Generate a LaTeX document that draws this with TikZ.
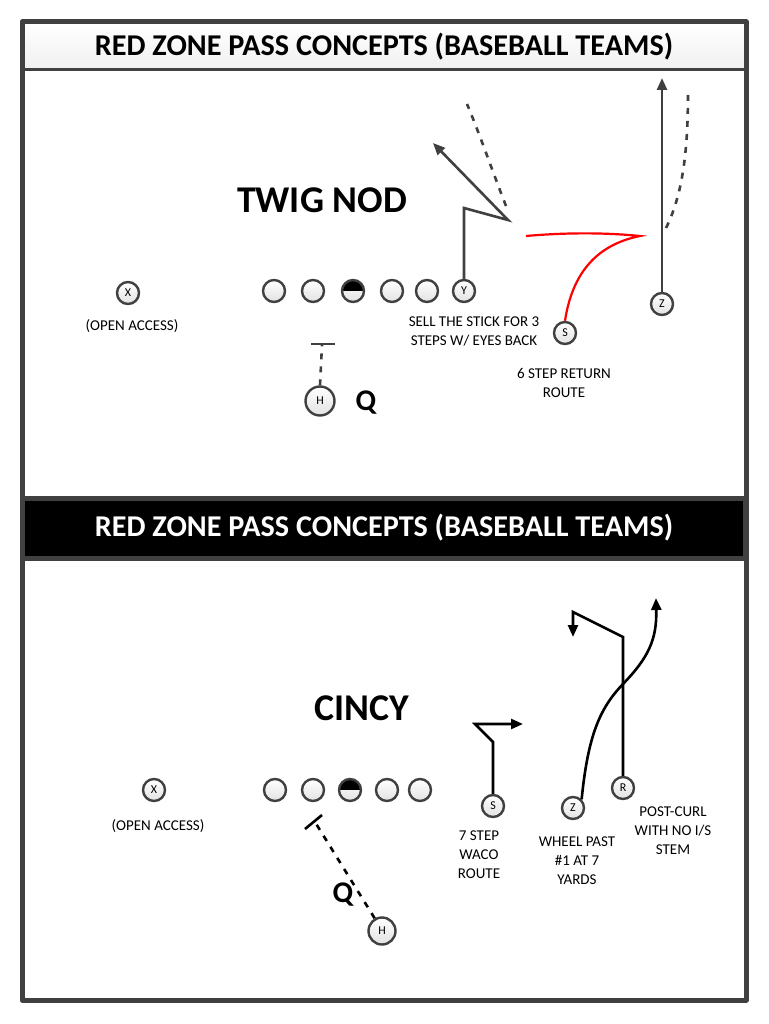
\documentclass[tikz,border=0pt]{standalone}
\usepackage{fontspec}
\setmainfont{Carlito}
\usetikzlibrary{arrows.meta}
\definecolor{dgray}{HTML}{404040}
\definecolor{lgray}{HTML}{E2E2E2}
\begin{document}
\begin{tikzpicture}[x=1pt,y=-1pt,
  pl/.style={circle, draw=dgray, line width=2.4pt, top color=white, bottom color=lgray, minimum size=22pt, inner sep=0pt, font=\fontsize{12}{12}\selectfont},
  ctr/.style={pl, path picture={\fill[black] (path picture bounding box.west) rectangle (path picture bounding box.north east);}},
  lbl/.style={align=center, font=\fontsize{15}{19}\selectfont, inner sep=0pt},
  ttl/.style={font=\bfseries\fontsize{30.2}{30}\selectfont, inner sep=0pt},
  big/.style={font=\bfseries\fontsize{37.8}{38}\selectfont, inner sep=0pt},
  qq/.style={font=\bfseries\fontsize{30}{30}\selectfont, inner sep=0pt},
  rt/.style={draw=dgray, line width=2.6pt, line join=miter},
  rtb/.style={draw=black, line width=2.6pt, line join=miter},
  tip/.style={-{Triangle[length=12pt,width=10pt]}},
  dot/.style={dgray, line width=2.6pt, dash pattern=on 6pt off 7pt},
]
\useasboundingbox (0,0) rectangle (768,1024);
% frame and bands
\fill[white] (22,22) rectangle (746,1000);
\shade[top color=white, bottom color=black!6] (24,24) rectangle (744,70);
\draw[dgray, line width=3pt] (24,70) -- (744,70);
\fill[dgray] (22,496) rectangle (746,561);
\fill[black] (25,501) rectangle (743,556);
\draw[dgray, line width=5pt, line join=round] (22,22) rectangle (746,1000);
\node[ttl] (t1) at (384,47) {RED ZONE PASS CONCEPTS (BASEBALL TEAMS)};
\node[ttl, text=white] (t2) at (384,528) {RED ZONE PASS CONCEPTS (BASEBALL TEAMS)};

% ---------- top: TWIG NOD ----------
\node[big] (tw) at (322,200) {TWIG NOD};
\node[pl] (x1) at (128,293) {X};
\node[lbl] (oa1) at (132,326) {(OPEN ACCESS)};
\node[pl] (l1) at (274,291) {};
\node[pl] (l2) at (313,291) {};
\node[ctr] (c1) at (353,291) {};
\node[pl] (l4) at (392,291) {};
\node[pl] (l5) at (427,291) {};
\node[pl] (y1) at (464,291) {Y};
\node[pl] (s1) at (565,333) {S};
\node[pl] (z1) at (662,304) {Z};
\node[pl, minimum size=29pt] (h1) at (320,401) {H};
\node[qq] (q1) at (366,403) {Q};
\node[lbl] (sell) at (474,331) {SELL THE STICK FOR 3\\STEPS W/ EYES BACK};
\node[lbl] (ret) at (564,383) {6 STEP RETURN\\ROUTE};

\coordinate (yc) at (464,208);
\coordinate (yp) at (508,220);
\coordinate (ya) at (433,143);
\draw[rt, tip] (y1.north) -- (yc) -- (yp) -- (ya);
\coordinate (d1a) at (506,206);
\coordinate (d1b) at (467,104);
\draw[dot] (d1a) .. controls (492,170) and (480,135) .. (d1b);

\coordinate (rp) at (640,236);
\coordinate (re) at (526,236);
\draw[red, line width=2.2pt] (s1.north) .. controls (572,275) and (595,245) .. (rp) .. controls (600,232) and (560,233) .. (re);

\coordinate (za) at (662,78);
\draw[rt, tip] (z1.north) -- (za);
\coordinate (d2a) at (666,228);
\coordinate (d2b) at (688,90);
\draw[dot] (d2a) .. controls (685,190) and (688,140) .. (d2b);

\coordinate (hb) at (322,345);
\draw[dot] (h1.north) -- (hb);
\coordinate (hbl) at (311,344);
\coordinate (hbr) at (335,344);
\draw[dgray, line width=2.6pt] (hbl) -- (hbr);

% ---------- bottom: CINCY ----------
\node[big] (cy) at (362,708) {CINCY};
\node[pl] (x2) at (154,790) {X};
\node[lbl] (oa2) at (158,826) {(OPEN ACCESS)};
\node[pl] (m1) at (275,790) {};
\node[pl] (m2) at (313,790) {};
\node[ctr] (c2) at (350,790) {};
\node[pl] (m4) at (387,790) {};
\node[pl] (m5) at (420,790) {};
\node[pl] (s2) at (493,806) {S};
\node[pl] (z2) at (573,808) {Z};
\node[pl] (r2) at (623,788) {R};
\node[pl, minimum size=27pt] (h2) at (382,931) {H};
\node[qq] (q2) at (343,895) {Q};
\node[lbl] (waco) at (479,855) {7 STEP\\WACO\\ROUTE};
\node[lbl] (whl) at (577,861) {WHEEL PAST\\\#1 AT 7\\YARDS};
\node[lbl] (pc) at (673,831) {POST-CURL\\WITH NO I/S\\STEM};

\coordinate (sc) at (493,742);
\coordinate (sd) at (475,724);
\coordinate (se) at (523,724);
\draw[rtb, tip] (s2.north) -- (sc) -- (sd) -- (se);

\coordinate (rc) at (623,637);
\coordinate (rd) at (573,612);
\coordinate (re2) at (573,637);
\draw[rtb, tip] (r2.north) -- (rc) -- (rd) -- (re2);

\coordinate (zx) at (623,684);
\coordinate (ze) at (656,598);
\draw[rtb, tip] (z2.north east) .. controls (588,735) and (600,708) .. (zx) .. controls (648,658) and (657,640) .. (ze);

\coordinate (hb2) at (315,822);
\draw[dot, black] (h2.120) -- (hb2);
\coordinate (hb2a) at (305,829);
\coordinate (hb2b) at (322,815);
\draw[black, line width=2.6pt] (hb2a) -- (hb2b);
\end{tikzpicture}
\end{document}
